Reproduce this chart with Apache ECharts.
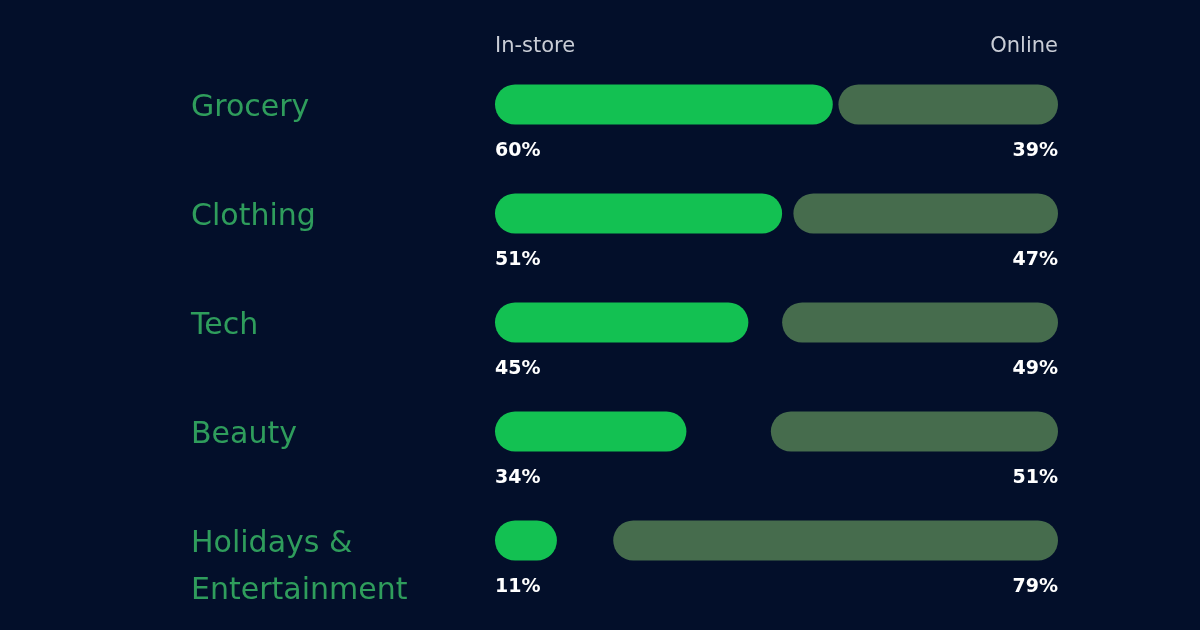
<!DOCTYPE html>
<html>
<head>
  <meta charset="utf-8">
  <title>In-store vs Online</title>
  <script src="https://cdn.jsdelivr.net/npm/echarts@6/dist/echarts.min.js"></script>
  <style>
    html, body { margin: 0; padding: 0; background: #030f2a; }
    #chart { width: 1200px; height: 630px; }
  </style>
</head>
<body>
  <div id="chart"></div>
  <script>
    var categories = ['Grocery', 'Clothing', 'Tech', 'Beauty', 'Holidays & Entertainment'];
    var inStore = [60, 51, 45, 34, 11];
    var online = [39, 47, 49, 51, 79];

    // transparent spacer so the online bar ends at 100
    var spacer = online.map(function (v) { return 100 - v; });

    var chart = echarts.init(document.getElementById('chart'));
    var font = '"DejaVu Sans", sans-serif';

    var option = {
      backgroundColor: '#030f2a',
      animation: false,
      title: [
        { text: 'In-store', left: 495, top: 36, padding: 0,
          textStyle: { color: '#c9cdd6', fontSize: 21, fontWeight: 'normal', fontFamily: font } },
        { text: 'Online', right: 142, top: 36, padding: 0,
          textStyle: { color: '#c9cdd6', fontSize: 21, fontWeight: 'normal', fontFamily: font } }
      ],
      grid: { left: 495, right: 142, top: 50, height: 545 },
      xAxis: {
        type: 'value', min: 0, max: 100,
        show: false
      },
      yAxis: {
        type: 'category',
        data: categories,
        inverse: true,
        axisLine: { show: false },
        axisTick: { show: false },
        splitLine: { show: false },
        axisLabel: {
          interval: 0,
          hideOverlap: false,
          align: 'left',
          margin: 304,
          color: '#2f9d5c',
          fontSize: 30,
          fontFamily: font,
          formatter: function (v) {
            if (v.indexOf('& ') > -1) {
              var parts = v.split('& ');
              return '{a| }\n{p|' + parts[0] + '&}\n{a|' + parts[1] + '}';
            }
            return '{p|' + v + '}';
          },
          rich: {
            a: { color: '#2f9d5c', fontSize: 30, fontFamily: font, lineHeight: 56 },
            p: { color: '#2f9d5c', fontSize: 30, fontFamily: font, lineHeight: 46, padding: [8, 0, 0, 0] }
          }
        }
      },
      series: [
        {
          name: 'In-store',
          type: 'bar',
          data: inStore,
          barWidth: 40,
          barGap: '-100%',
          itemStyle: { color: '#13c152', borderRadius: 20 },
          label: {
            show: true,
            position: [0, '100%'],
            offset: [0, 17],
            align: 'left',
            verticalAlign: 'top',
            color: '#ffffff',
            fontSize: 19,
            fontWeight: 'bold',
            fontFamily: font,
            formatter: '{c}%'
          }
        },
        {
          name: 'spacer',
          type: 'bar',
          stack: 'online',
          data: spacer,
          barWidth: 40,
          silent: true,
          itemStyle: { color: 'transparent' }
        },
        {
          name: 'Online',
          type: 'bar',
          stack: 'online',
          data: online,
          barWidth: 40,
          itemStyle: { color: '#466c4d', borderRadius: 20 },
          label: {
            show: true,
            position: ['100%', '100%'],
            offset: [0, 17],
            align: 'right',
            verticalAlign: 'top',
            color: '#ffffff',
            fontSize: 19,
            fontWeight: 'bold',
            fontFamily: font,
            formatter: '{c}%'
          }
        }
      ]
    };

    chart.setOption(option);
  </script>
</body>
</html>
